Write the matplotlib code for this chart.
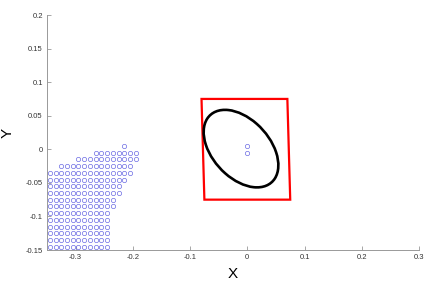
import numpy as np
import matplotlib
matplotlib.use('Agg')
import matplotlib.pyplot as plt
from matplotlib.patches import Ellipse, Polygon

plt.rcParams['font.family'] = ['Liberation Sans', 'DejaVu Sans']
plt.rcParams['axes.unicode_minus'] = False

# grid of sample points (one row per y value)
grid_step = 0.01
row_y = [0.005, -0.005, -0.015, -0.025, -0.035, -0.045, -0.055, -0.065,
         -0.075, -0.085, -0.095, -0.105, -0.115, -0.125, -0.135, -0.145]
row_x_first = [-0.215, -0.265, -0.295, -0.325, -0.345, -0.345, -0.345, -0.345,
               -0.345, -0.345, -0.345, -0.345, -0.345, -0.345, -0.345, -0.345]
row_x_last = [-0.215, -0.195, -0.195, -0.205, -0.205, -0.215, -0.225, -0.225,
              -0.235, -0.235, -0.245, -0.245, -0.245, -0.245, -0.245, -0.245]

# points near the origin
center_x = [0.0, 0.0]
center_y = [0.005, -0.005]

# red quadrilateral
quad_x = [-0.08, 0.07, 0.075, -0.075]
quad_y = [0.075, 0.075, -0.075, -0.075]

# black ellipse
ell_center = (-0.011, 0.001)
ell_width = 0.148
ell_height = 0.092
ell_angle = -37

fig = plt.figure(figsize=(4.38, 2.87), dpi=100)
ax = fig.add_axes([0.1073, 0.1289, 0.8493, 0.8188])

pts_x, pts_y = [], []
for y, x0, x1 in zip(row_y, row_x_first, row_x_last):
    xs = np.arange(x0, x1 + grid_step / 2, grid_step)
    pts_x.extend(xs)
    pts_y.extend([y] * len(xs))

ax.plot(pts_x, pts_y, 'o', mfc='none', mec='#6c6ce4', ms=3.1, mew=0.5)
ax.plot(center_x, center_y, 'o', mfc='none', mec='#6c6ce4', ms=3.1, mew=0.5)

ax.add_patch(Polygon(list(zip(quad_x, quad_y)), closed=True, fill=False,
                     edgecolor='#ff0000', linewidth=1.6))
ax.add_patch(Ellipse(ell_center, ell_width, ell_height, angle=ell_angle,
                     fill=False, edgecolor='black', linewidth=1.9))

ax.set_xlim(-0.35, 0.3)
ax.set_ylim(-0.15, 0.2)
ax.set_xticks([-0.3, -0.2, -0.1, 0, 0.1, 0.2, 0.3])
ax.set_xticklabels(['-0.3', '-0.2', '-0.1', '0', '0.1', '0.2', '0.3'])
ax.set_yticks([-0.15, -0.1, -0.05, 0, 0.05, 0.1, 0.15, 0.2])
ax.set_yticklabels(['-0.15', '-0.1', '-0.05', '0', '0.05', '0.1', '0.15', '0.2'])

for s in ['top', 'right']:
    ax.spines[s].set_visible(False)
for s in ['left', 'bottom']:
    ax.spines[s].set_color('#999999')
    ax.spines[s].set_linewidth(0.7)
ax.tick_params(direction='in', length=3, width=0.6, color='#999999',
               labelsize=5.5, labelcolor='#333333', pad=3)

ax.set_xlabel('X', fontsize=11, labelpad=4)
ax.set_ylabel('Y', fontsize=11, labelpad=8)

fig.savefig('out.png', dpi=100)
